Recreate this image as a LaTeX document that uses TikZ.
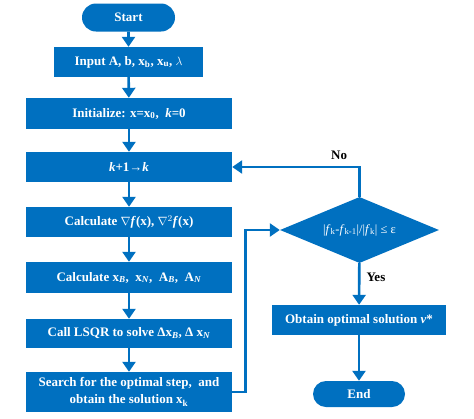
\documentclass[tikz,border=0pt]{standalone}
\usepackage{fontspec}
\setmainfont{Liberation Serif}
\usetikzlibrary{shapes.geometric,shapes.misc,arrows.meta}
\definecolor{flowblue}{RGB}{0,112,192}
\tikzset{
  flow/.style={x=1pt, y=-1pt},
  boxfont/.style={font=\fontsize{13}{17}\selectfont\bfseries},
  term/.style={rounded rectangle, fill=flowblue, text=white, boxfont, minimum width=93pt, minimum height=28pt, inner sep=0pt},
  proc/.style={rectangle, fill=flowblue, text=white, boxfont, minimum height=30pt, inner sep=0pt, align=center},
  test/.style={diamond, aspect=2.4, fill=flowblue, text=white, font=\fontsize{12.5}{14}\selectfont, minimum width=159pt, minimum height=66pt, inner sep=0pt},
  flabel/.style={boxfont, text=black, inner sep=1pt},
  link/.style={draw=flowblue, line width=2.6pt, -{Triangle[length=10pt,width=13pt]}},
}

\begin{document}
\begin{tikzpicture}[flow]
  \useasboundingbox[fill=white] (0,0) rectangle (474,418);
  % main column
  \node[term] (start) at (128.5,17.5) {Start};
  \node[proc, minimum width=149pt] (input) at (128.5,62)
    {Input A, b, x\textsubscript{b}, x\textsubscript{u}, $\lambda$};
  \node[proc, minimum width=206pt, minimum height=31pt] (init) at (129,113.5)
    {Initialize: x=x\textsubscript{0},\enspace\textit{k}=0};
  \node[proc, minimum width=206pt] (iter) at (129,167) {\textit{k}+1→\textit{k}};
  \node[proc, minimum width=206pt] (grad) at (129,222)
    {Calculate $\nabla$\textit{f}(x), $\nabla^2$\textit{f}(x)};
  \node[proc, minimum width=206pt, minimum height=31pt] (part) at (129,277.5)
    {Calculate x\textsubscript{\textit{B}},\enspace x\textsubscript{\textit{N}},\enspace A\textsubscript{\textit{B}},\enspace A\textsubscript{\textit{N}}};
  \node[proc, minimum width=206pt, minimum height=29pt] (lsqr) at (129,333.5)
    {Call LSQR to solve Δx\textsubscript{\textit{B}}, Δ x\textsubscript{\textit{N}}};
  \node[proc, minimum width=206pt, minimum height=40pt] (search) at (129,392)
    {Search for the optimal step,\enspace and\\obtain the solution x\textsubscript{k}};
  % right column
  \node[test] (check) at (359.5,230)
    {|\textit{f}\textsubscript{k}-\textit{f}\textsubscript{k-1}|/|\textit{f}\textsubscript{k}| ≤ ε};
  \node[proc, minimum width=174pt] (opt) at (359,320) {Obtain optimal solution \textit{v}*};
  \node[term, minimum width=92pt, minimum height=26pt] (end) at (359,394) {End};
  % connectors
  \draw[link] (start) -- (input);
  \draw[link] (input) -- (init);
  \draw[link] (init) -- (iter);
  \draw[link] (iter) -- (grad);
  \draw[link] (grad) -- (part);
  \draw[link] (part) -- (lsqr);
  \draw[link] (lsqr) -- (search);
  \draw[link] (search.east) -- ++(13,0) |- (check.west);
  \draw[link] (check.north) |- node[flabel, pos=0.58, above=5pt] {No} (iter.east);
  \draw[link] (check) -- node[flabel, pos=0.33, right=5pt] {Yes} (opt);
  \draw[link] (opt) -- (end);
\end{tikzpicture}
\end{document}
